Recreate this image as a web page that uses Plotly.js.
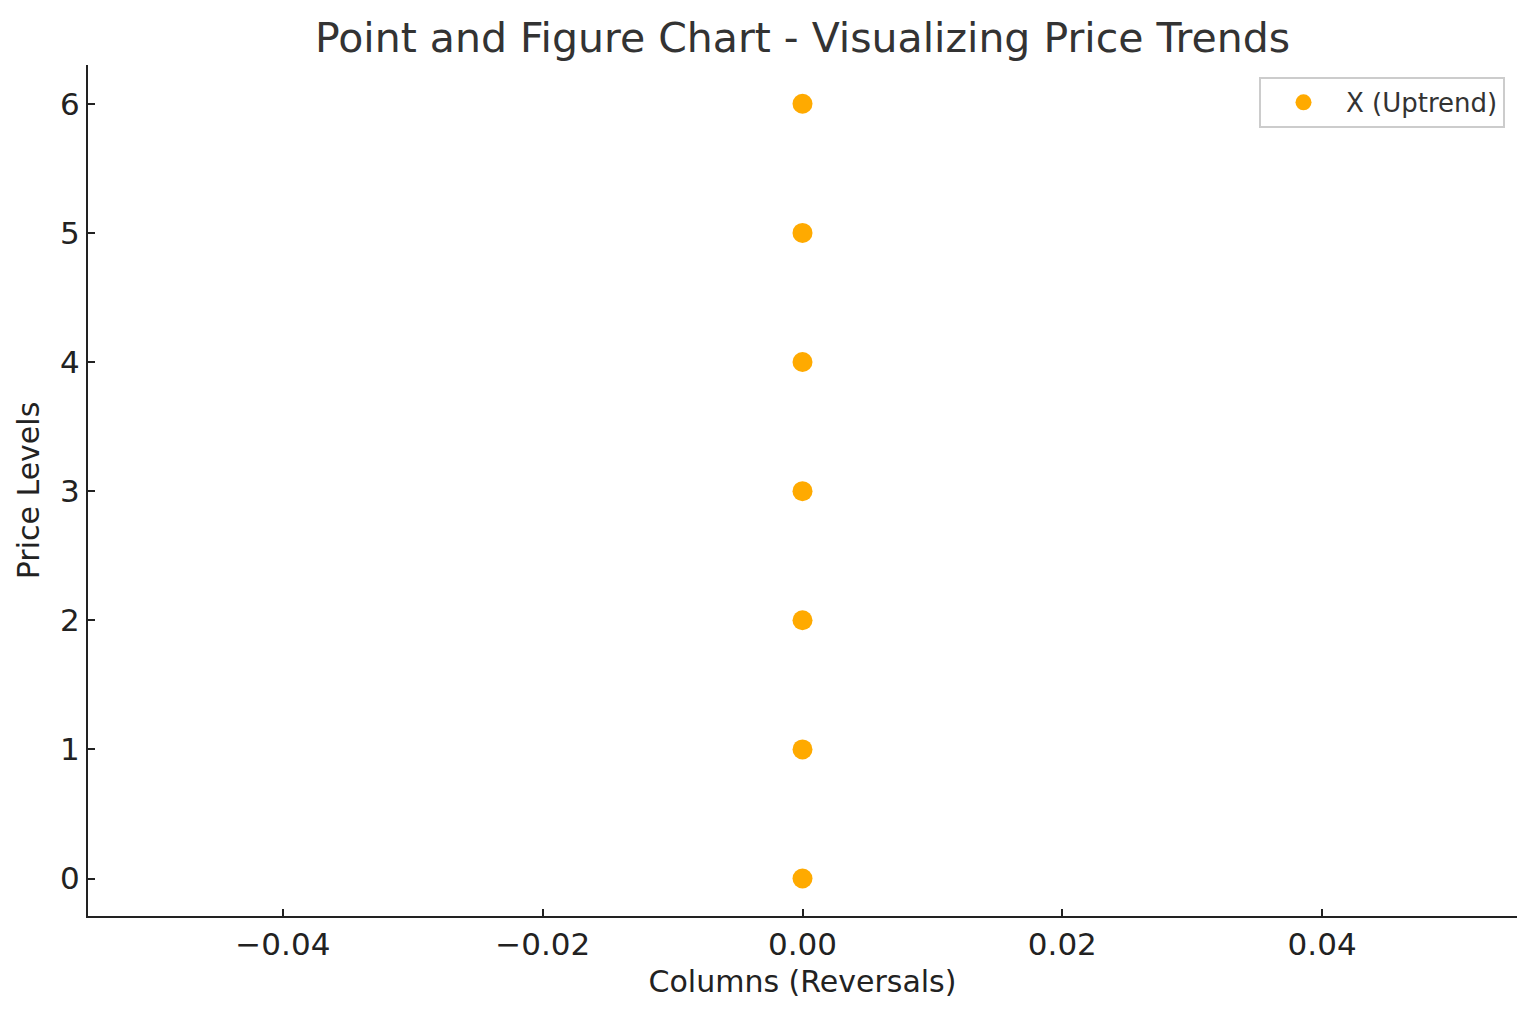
<!DOCTYPE html>
<html>
<head>
<meta charset="utf-8">
<script src="https://cdn.plot.ly/plotly-3.0.1.min.js"></script>
<style>
  html, body { margin: 0; padding: 0; background: #fff; }
  #plot { width: 1536px; height: 1016px; }
</style>
</head>
<body>
<div id="plot"></div>
<script>
// Column index of each X and its price level
var columns = [0, 0, 0, 0, 0, 0, 0];
var priceLevels = [0, 1, 2, 3, 4, 5, 6];

var xTickVals = [-0.04, -0.02, 0, 0.02, 0.04];
var yTickVals = [0, 1, 2, 3, 4, 5, 6];

var trace1 = {
  x: columns,
  y: priceLevels,
  mode: "markers",
  type: "scatter",
  name: "X (Uptrend)",
  marker: { color: "#ffaa00", size: 20 }
};

var tickFont = { family: "DejaVu Sans, sans-serif", size: 31, color: "#222" };
var labelFont = { family: "DejaVu Sans, sans-serif", size: 30, color: "#222" };

var layout = {
  width: 1536,
  height: 1016,
  paper_bgcolor: "#fff",
  plot_bgcolor: "#fff",
  margin: { l: 88, r: 19, t: 65, b: 100 },
  font: { family: "DejaVu Sans, sans-serif", color: "#222" },
  title: {
    text: "Point and Figure Chart - Visualizing Price Trends",
    font: { family: "DejaVu Sans, sans-serif", size: 41, color: "#333" },
    xref: "paper",
    x: 0.5,
    xanchor: "center",
    y: 0.963,
    yanchor: "middle"
  },
  xaxis: {
    range: [-0.055, 0.055],
    tickvals: xTickVals,
    tickformat: ".2f",
    ticks: "inside",
    ticklen: 7,
    tickwidth: 2,
    tickcolor: "#222",
    showline: true,
    linecolor: "#222",
    linewidth: 2,
    showgrid: false,
    zeroline: false,
    tickfont: tickFont,
    title: { text: "Columns (Reversals)", font: labelFont, standoff: 10 }
  },
  yaxis: {
    range: [-0.29, 6.3],
    tickvals: yTickVals,
    ticks: "inside",
    ticklen: 7,
    tickwidth: 2,
    tickcolor: "#222",
    showline: true,
    linecolor: "#222",
    linewidth: 2,
    showgrid: false,
    zeroline: false,
    tickfont: tickFont,
    title: { text: "Price Levels", font: labelFont, standoff: 12 }
  },
  showlegend: true,
  legend: {
    x: 0.9916,
    y: 0.986,
    xanchor: "right",
    yanchor: "top",
    bgcolor: "#fff",
    bordercolor: "#ccc",
    borderwidth: 2,
    itemwidth: 75,
    font: { family: "DejaVu Sans, sans-serif", size: 26, color: "#333" }
  }
};

Plotly.newPlot("plot", [trace1], layout, { displayModeBar: false });
</script>
</body>
</html>
